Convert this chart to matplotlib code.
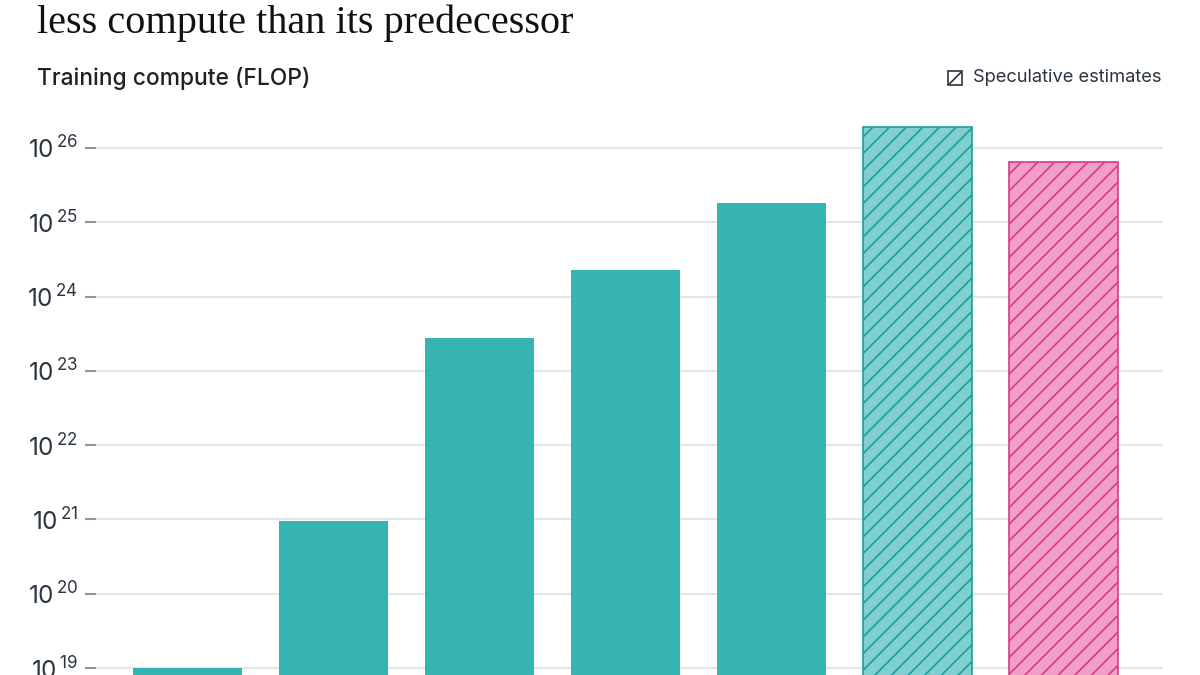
import math
import matplotlib.pyplot as plt
from matplotlib.patches import Rectangle
from matplotlib.ticker import FixedLocator, FuncFormatter, NullLocator

# bar heights (FLOP)
values = [1.0e19, 9.5e20, 2.8e23, 2.3e24, 1.8e25, 1.9e26, 6.5e25]
speculative = [False, False, False, False, False, True, True]
colors = ['#2fb2b1', '#2fb2b1', '#2fb2b1', '#2fb2b1', '#2fb2b1', '#7fd0cf', '#f29fc8']
edges = ['#2fb2b1', '#2fb2b1', '#2fb2b1', '#2fb2b1', '#2fb2b1', '#1a9e9d', '#d93a86']
tick_exps = [19, 20, 21, 22, 23, 24, 25, 26]

plt.rcParams['font.family'] = ['Inter', 'DejaVu Sans']
plt.rcParams['hatch.linewidth'] = 1.2

fig = plt.figure(figsize=(12, 6.75), dpi=100)
ax = fig.add_axes([96 / 1200, 0, (1163 - 96) / 1200, (675 - 110) / 675])

xs = list(range(len(values)))
for x, v, s, c, e in zip(xs, values, speculative, colors, edges):
    if s:
        ax.bar(x, v, width=0.75, color=c, edgecolor=e, linewidth=1.2, hatch='//', zorder=3)
    else:
        ax.bar(x, v, width=0.75, color=c, edgecolor='none', alpha=0.97, zorder=3)

ax.set_yscale('log')
ax.set_ylim(10 ** 18.906, 10 ** 26.51)
ax.set_xlim(-0.627, 6.68)

ax.yaxis.set_major_locator(FixedLocator([10.0 ** k for k in tick_exps]))
ax.yaxis.set_minor_locator(NullLocator())
ax.yaxis.set_major_formatter(FuncFormatter(lambda v, p: r'$\mathregular{10^{\,%d}}$' % round(math.log10(v))))
ax.tick_params(axis='y', length=8, width=1.5, color='#8c979c', labelsize=17.5, labelcolor='#2a3540', pad=5)
ax.set_xticks([])
ax.grid(axis='y', color='#dfe8e8', linewidth=1.5, zorder=0)
for sp in ax.spines.values():
    sp.set_visible(False)

fig.text(37 / 1200, 1 - 23 / 675, 'less compute than its predecessor', family='Liberation Serif',
         fontsize=29, color='#111111', va='center', ha='left')
fig.text(37 / 1200, 1 - 78 / 675, 'Training compute (FLOP)', fontsize=16.4, color='#1e2226',
         va='center', ha='left', fontweight='medium')

# legend: hatched square + label
fig.patches.append(Rectangle((948 / 1200, 1 - 85 / 675), 14 / 1200, 14 / 675, transform=fig.transFigure,
                             facecolor='white', edgecolor='#2a3540', linewidth=1.2, hatch='/'))
fig.text(973 / 1200, 1 - 78 / 675, 'Speculative estimates', fontsize=13.2, color='#2a3540',
         va='center', ha='left')

fig.savefig('out.png', dpi=100)
